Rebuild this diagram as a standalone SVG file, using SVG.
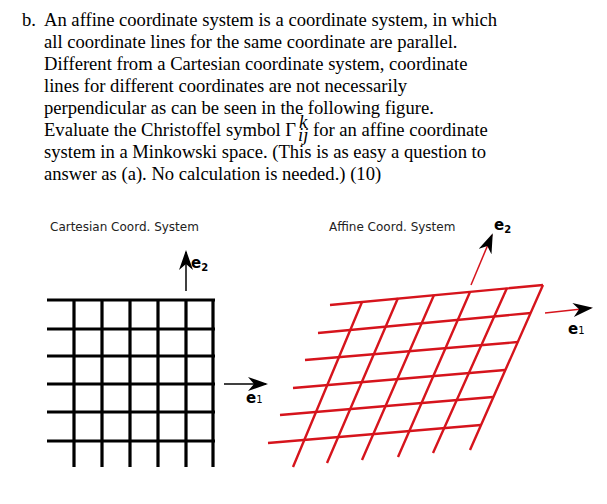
<svg xmlns="http://www.w3.org/2000/svg" width="607" height="504" viewBox="0 0 607 504">
<style>
.t{font-family:"Liberation Serif",serif;font-size:18.6px;fill:#000}
.s{font-family:"DejaVu Sans",sans-serif;font-size:12px;fill:#222}
.e{font-family:"DejaVu Sans",sans-serif;font-size:15px;font-weight:bold;fill:#000}
.b{stroke:#000;stroke-width:3.2;fill:none}
.r{stroke:#d6141c;stroke-width:2.4;fill:none}
</style>
<defs>
<marker id="ah" viewBox="0 0 10 10" refX="9" refY="5" markerWidth="20" markerHeight="14" orient="auto" markerUnits="userSpaceOnUse" preserveAspectRatio="none">
<path d="M0,0 L10,5 L0,10 L3,5 Z" fill="#000"/>
</marker>
</defs>
<rect width="607" height="504" fill="#fff"/>
<g id="text">
<text class="t" x="22" y="26">b.</text>
<text class="t" x="44" y="26">An affine coordinate system is a coordinate system, in which</text>
<text class="t" x="44" y="48">all coordinate lines for the same coordinate are parallel.</text>
<text class="t" x="44" y="70">Different from a Cartesian coordinate system, coordinate</text>
<text class="t" x="44" y="92">lines for different coordinates are not necessarily</text>
<text class="t" x="44" y="114">perpendicular as can be seen in the following figure.</text>
<text class="t" x="44" y="136">Evaluate the Christoffel symbol Γ</text>
<text class="t" x="299" y="128" font-size="11" font-style="italic">k</text>
<text class="t" x="298" y="141" font-size="11" font-style="italic">ij</text>
<text class="t" x="313" y="136">for an affine coordinate</text>
<text class="t" x="44" y="158">system in a Minkowski space. (This is as easy a question to</text>
<text class="t" x="44" y="180">answer as (a). No calculation is needed.) (10)</text>
</g>
<g id="cartesian">
<text class="s" x="50" y="231">Cartesian Coord. System</text>
<g class="b">
<path d="M47,300H215M47,329H215M47,356H215M47,384H215M47,412H215M47,441H215"/>
<path d="M74,300V467M102,300V467M130,300V467M158,300V467M186,300V467M213,300V467"/>
</g>
</g>
<g id="affine">
<text class="s" x="329" y="231">Affine Coord. System</text>
<g class="r">
<path d="M330,305L543,285M318,333L531,313M305,360L518,342M293,388L505,370M280,415L493,397M268,443L481,425"/>
<path d="M543,285L470,450M507,288L433,453M470,292L398,457M434,295L362,460M398,298L327,463M362,302L293,467"/>
</g>
</g>
<g id="connectors">
<line x1="186" y1="291" x2="186" y2="252" stroke="#000" stroke-width="1.5" marker-end="url(#ah)"/>
<line x1="224" y1="384" x2="266" y2="384" stroke="#000" stroke-width="1.5" marker-end="url(#ah)"/>
<line x1="471" y1="285" x2="492" y2="235" stroke="#d6141c" stroke-width="1.5" marker-end="url(#ah)"/>
<line x1="545" y1="313" x2="591" y2="308" stroke="#d6141c" stroke-width="1.5" marker-end="url(#ah)"/>
</g>
<g id="labels">
<text class="e" x="191" y="268">e<tspan font-size="10" dy="3">2</tspan></text>
<text class="e" x="246" y="403">e<tspan font-size="10" font-weight="normal">1</tspan></text>
<text class="e" x="494" y="230">e<tspan font-size="10" dy="3">2</tspan></text>
<text class="e" x="568" y="334">e<tspan font-size="10" font-weight="normal">1</tspan></text>
</g>
</svg>
